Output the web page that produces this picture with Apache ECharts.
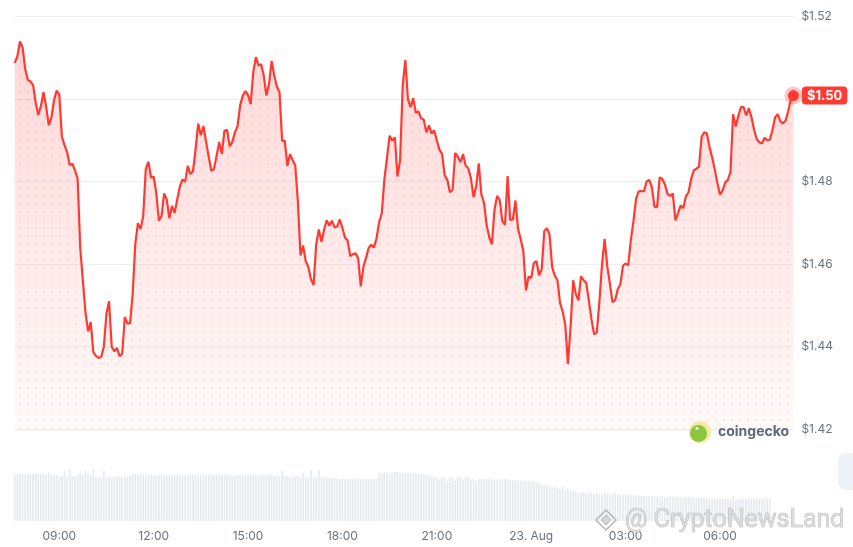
<!DOCTYPE html>
<html><head><meta charset="utf-8">
<script src="https://cdn.jsdelivr.net/npm/echarts@6/dist/echarts.min.js"></script>
<style>html,body{margin:0;padding:0;background:#fff}#c{width:853px;height:547px}</style>
</head><body><div id="c"></div>
<script>
// ---- data ----
// time measured in hours after 22 Aug 00:00
const startHour = 7 + 35 / 60; // 22 Aug 07:35
const stepMinutes = 5;
const prices = [
1.5087,1.5103,1.5139,1.5125,1.5073,1.5046,1.5042,1.5034,1.4991,1.4961,
1.4983,1.5016,1.4981,1.4936,1.4955,1.4997,1.5020,1.5011,1.4909,1.4888,
1.4871,1.4840,1.4843,1.4827,1.4807,1.4639,1.4560,1.4483,1.4437,1.4460,
1.4387,1.4378,1.4373,1.4375,1.4400,1.4480,1.4510,1.4400,1.4389,1.4397,
1.4377,1.4383,1.4472,1.4456,1.4457,1.4528,1.4649,1.4699,1.4685,1.4716,
1.4830,1.4848,1.4809,1.4812,1.4772,1.4705,1.4716,1.4771,1.4756,1.4711,
1.4741,1.4724,1.4757,1.4788,1.4805,1.4799,1.4838,1.4818,1.4825,1.4879,
1.4940,1.4912,1.4934,1.4896,1.4860,1.4826,1.4830,1.4862,1.4895,1.4867,
1.4923,1.4925,1.4885,1.4896,1.4919,1.4934,1.4985,1.5008,1.5019,1.5009,
1.4987,1.5066,1.5101,1.5081,1.5084,1.5056,1.5008,1.5036,1.5092,1.5056,
1.5030,1.5016,1.4898,1.4899,1.4838,1.4866,1.4852,1.4839,1.4752,1.4621,
1.4645,1.4607,1.4593,1.4563,1.4549,1.4648,1.4684,1.4654,1.4683,1.4706,
1.4693,1.4705,1.4689,1.4691,1.4708,1.4687,1.4664,1.4657,1.4619,1.4624,
1.4626,1.4614,1.4546,1.4594,1.4615,1.4639,1.4647,1.4640,1.4662,1.4702,
1.4723,1.4805,1.4858,1.4911,1.4899,1.4907,1.4812,1.4852,1.5034,1.5094,
1.4998,1.4980,1.5002,1.4966,1.4970,1.4953,1.4950,1.4919,1.4936,1.4916,
1.4924,1.4900,1.4877,1.4867,1.4815,1.4804,1.4774,1.4780,1.4869,1.4860,
1.4847,1.4866,1.4838,1.4832,1.4808,1.4762,1.4788,1.4844,1.4768,1.4749,
1.4695,1.4665,1.4648,1.4732,1.4765,1.4755,1.4704,1.4695,1.4813,1.4707,
1.4708,1.4754,1.4685,1.4660,1.4631,1.4536,1.4570,1.4566,1.4603,1.4607,
1.4573,1.4588,1.4680,1.4687,1.4671,1.4592,1.4572,1.4561,1.4506,1.4485,
1.4453,1.4358,1.4446,1.4561,1.4528,1.4512,1.4570,1.4561,1.4554,1.4511,
1.4466,1.4430,1.4434,1.4508,1.4598,1.4661,1.4595,1.4553,1.4508,1.4512,
1.4539,1.4551,1.4596,1.4601,1.4597,1.4658,1.4704,1.4759,1.4776,1.4777,
1.4776,1.4800,1.4804,1.4787,1.4739,1.4738,1.4810,1.4806,1.4793,1.4770,
1.4765,1.4771,1.4706,1.4723,1.4742,1.4735,1.4764,1.4774,1.4806,1.4827,
1.4831,1.4836,1.4908,1.4919,1.4916,1.4884,1.4858,1.4830,1.4797,1.4768,
1.4778,1.4798,1.4804,1.4823,1.4963,1.4933,1.4959,1.4980,1.4980,1.4960,
1.4977,1.4956,1.4926,1.4903,1.4895,1.4892,1.4906,1.4900,1.4901,1.4924,
1.4955,1.4963,1.4946,1.4941,1.4947,1.4970,1.4998,1.5008
];
const volumes = [
4.7,4.7,4.7,4.7,4.6,4.7,4.7,4.7,4.7,4.7,
4.7,4.7,4.6,4.9,4.6,4.6,4.6,4.5,4.5,5.0,
4.4,5.2,4.5,4.5,4.6,4.8,4.6,5.0,4.7,4.6,
5.1,4.4,4.4,4.4,5.0,4.4,4.4,4.4,4.4,4.4,
4.4,4.4,4.4,4.4,4.5,4.7,4.7,4.6,4.6,4.6,
4.6,4.6,4.6,4.6,4.6,4.6,4.6,4.6,4.6,4.6,
4.6,4.6,4.6,4.6,4.6,4.6,4.6,4.6,4.6,4.6,
4.6,4.6,4.6,4.6,4.6,4.6,4.6,4.6,4.6,4.6,
4.6,4.6,4.6,4.6,4.5,4.6,4.6,4.6,4.6,4.6,
4.6,4.6,4.6,4.5,4.6,4.6,4.6,4.6,4.6,4.5,
4.6,4.5,5.0,4.5,4.5,4.4,4.4,4.4,4.5,4.4,
4.8,4.4,4.3,5.1,4.4,4.3,5.1,4.4,4.4,4.3,
4.3,4.3,4.3,4.3,4.2,4.2,4.2,4.2,4.2,4.2,
4.2,4.2,4.2,4.2,4.2,4.2,4.2,4.2,4.2,4.8,
4.8,4.9,4.8,4.7,4.8,4.9,4.9,4.8,4.8,4.8,
4.8,4.8,4.8,4.8,4.7,4.7,4.7,4.6,4.6,4.5,
4.4,4.3,4.1,4.4,4.4,4.0,4.4,4.4,4.0,4.4,
4.4,4.1,4.4,4.4,4.2,4.2,4.0,4.2,4.2,4.2,
4.2,4.2,4.2,4.1,4.1,4.2,4.2,4.2,4.2,4.1,
4.1,4.1,4.0,4.0,4.0,4.0,4.0,4.0,3.9,3.9,
3.8,3.7,3.6,3.5,3.4,3.3,3.4,3.3,3.2,3.4,
3.1,3.2,3.0,3.0,2.9,2.8,2.8,2.9,2.8,2.8,
2.8,2.7,2.8,2.7,2.7,2.9,2.7,2.7,2.7,2.9,
2.7,2.6,2.6,2.8,2.6,2.6,2.6,2.6,2.5,2.5,
2.5,2.5,2.5,2.5,2.4,2.4,2.4,2.5,2.4,2.4,
2.4,2.4,2.4,2.4,2.4,2.4,2.4,2.4,2.4,2.3,
2.3,2.3,2.3,2.3,2.2,2.2,2.2,2.2,2.2,2.2,
2.2,2.2,2.2,2.2,2.5,2.2,2.2,2.2,2.2,2.2,
2.2,2.2,2.2,2.2,2.2,2.2,2.2,2.2,2.2
];
const tickHours = [9, 12, 15, 18, 21, 24, 27, 30];
const tickLabels = ['09:00', '12:00', '15:00', '18:00', '21:00', '23. Aug', '03:00', '06:00'];
const priceMin = 1.42, priceMax = 1.52, priceStep = 0.02;
const currentLabel = '$1.50';

// ---- build ----
const stepH = stepMinutes / 60;
const hourAt = i => startHour + i * stepH;
const priceData = prices.map((v, i) => [hourAt(i), v]);
const volumeData = volumes.map((v, i) => [hourAt(i), v]);
const xMin = hourAt(0), xMax = hourAt(prices.length - 1);
const last = priceData[priceData.length - 1];

const RED = '#ff3a33';
const LABEL = '#6a7380';
const FONT = 'Inter, "Noto Sans", sans-serif';

const pc = document.createElement('canvas');
pc.width = 8; pc.height = 8;
const pctx = pc.getContext('2d');
pctx.fillStyle = 'rgba(255,80,80,0.10)';
pctx.beginPath(); pctx.arc(4, 4, 1.3, 0, Math.PI * 2); pctx.fill();

const chart = echarts.init(document.getElementById('c'), null, { renderer: 'canvas' });
chart.setOption({
  animation: false,
  backgroundColor: '#ffffff',
  grid: [
    { left: 14.7, right: 59.6, top: 16.3, bottom: 117.7 },
    { left: 14.7, right: 59.6, top: 469, bottom: 26 }
  ],
  xAxis: [
    { type: 'value', gridIndex: 0, min: xMin, max: xMax, show: false, splitLine: { show: false } },
    { type: 'value', gridIndex: 1, min: xMin, max: xMax,
      axisLine: { show: false }, axisTick: { show: false }, splitLine: { show: false },
      axisLabel: {
        customValues: tickHours, color: LABEL, fontSize: 12, fontFamily: FONT, margin: 9,
        showMinLabel: true, showMaxLabel: true,
        formatter: v => { const k = tickHours.indexOf(v); return k >= 0 ? tickLabels[k] : ''; }
      } }
  ],
  yAxis: [
    { type: 'value', gridIndex: 0, position: 'right', min: priceMin, max: priceMax, interval: priceStep,
      axisLine: { show: false }, axisTick: { show: false },
      splitLine: { lineStyle: { color: '#eceef2', width: 1 } },
      axisLabel: { color: LABEL, fontSize: 12, fontFamily: FONT, margin: 8,
        formatter: v => '$' + v.toFixed(2) } },
    { type: 'value', gridIndex: 1, min: 0, max: 5.2, show: false, splitLine: { show: false } }
  ],
  series: [
    { type: 'bar', xAxisIndex: 1, yAxisIndex: 1, data: volumeData, barWidth: 1.8,
      itemStyle: { color: '#e7ebf0' }, silent: true },
    { type: 'line', xAxisIndex: 0, yAxisIndex: 0, data: priceData, showSymbol: false, symbol: 'none',
      lineStyle: { width: 0 }, z: 1,
      areaStyle: { color: { image: pc, repeat: 'repeat' }, opacity: 1 } },
    { type: 'line', xAxisIndex: 0, yAxisIndex: 0, data: priceData, showSymbol: false, symbol: 'none',
      lineStyle: { color: RED, width: 2.2 }, z: 3,
      areaStyle: { color: new echarts.graphic.LinearGradient(0, 0, 0, 1, [
        { offset: 0, color: 'rgba(255,58,51,0.28)' },
        { offset: 1, color: 'rgba(255,58,51,0.04)' }
      ]) } },
    { type: 'scatter', xAxisIndex: 0, yAxisIndex: 0, data: [last], symbolSize: 18, z: 4,
      itemStyle: { color: 'rgba(255,58,51,0.28)', opacity: 1 }, silent: true },
    { type: 'scatter', xAxisIndex: 0, yAxisIndex: 0, data: [last], symbolSize: 11, z: 5,
      itemStyle: { color: RED, opacity: 1 }, silent: true,
      label: { show: true, position: 'right', distance: 3, formatter: currentLabel,
        color: '#fff', fontWeight: 'bold', fontSize: 13, fontFamily: FONT,
        backgroundColor: RED, borderRadius: 4, padding: [3, 5, 2, 5] } }
  ],
  graphic: [
    { type: 'rect', shape: { x: 838, y: 453, width: 30, height: 37, r: 8 }, style: { fill: '#eef1f5' }, z: 0 },
    { type: 'circle', shape: { cx: 700, cy: 432, r: 11 }, style: { fill: '#f6e7a3' }, z: 10 },
    { type: 'circle', shape: { cx: 698.5, cy: 433.5, r: 8.5 }, style: { fill: '#8cc63f' }, z: 11 },
    { type: 'circle', shape: { cx: 697, cy: 428.5, r: 1.6 }, style: { fill: '#ffffff' }, z: 12 },
    { type: 'text', x: 718, y: 432, style: { text: 'coingecko', fill: '#5f6876', font: 'bold 14px ' + FONT, textVerticalAlign: 'middle' }, z: 10 },
    { type: 'polygon', shape: { points: [[606, 510], [616, 520], [606, 530], [596, 520]] },
      style: { fill: 'none', stroke: '#b5b5b5', lineWidth: 1.5 }, z: 20 },
    { type: 'polygon', shape: { points: [[606, 515], [611, 520], [606, 525], [601, 520]] },
      style: { fill: '#d6d6d6', stroke: '#b5b5b5', lineWidth: 1 }, z: 20 },
    { type: 'text', x: 625, y: 521, style: { text: '@ CryptoNewsLand', fill: '#dadada', stroke: '#a8a8a8', lineWidth: 0.6,
      font: '25px Roboto, sans-serif', textVerticalAlign: 'middle' }, z: 20 }
  ]
});
</script>
</body></html>
